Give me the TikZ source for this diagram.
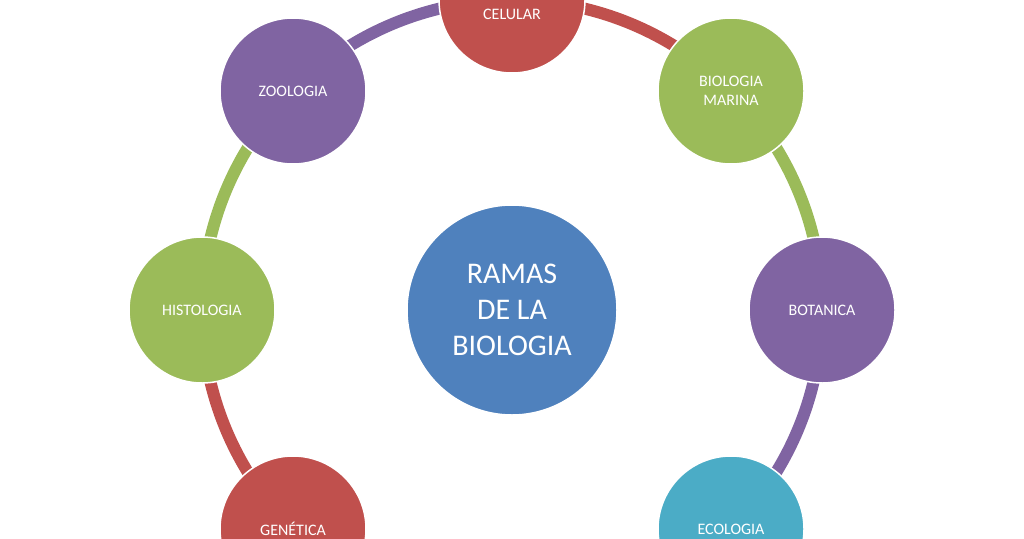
\documentclass[tikz,border=0pt]{standalone}
\usepackage{fontspec}
\setmainfont{Carlito}
\usetikzlibrary{calc}
\definecolor{cred}{HTML}{C0504D}
\definecolor{cgreen}{HTML}{9BBB59}
\definecolor{cpurple}{HTML}{8064A2}
\definecolor{cblue}{HTML}{4F81BD}
\definecolor{cteal}{HTML}{4BACC6}
\begin{document}
\begin{tikzpicture}[x=1pt,y=-1pt,
  branch/.style={circle,draw=white,line width=1.5pt,minimum size=146pt,inner sep=0pt,text=white,align=center,font=\fontsize{16}{19}\selectfont},
  lbl/.style={text=white,align=center,font=\fontsize{16}{19}\selectfont},
  ring/.style={line width=12pt}]
\useasboundingbox (0,0) rectangle (1024,538);
\coordinate (o) at (512,310);
\foreach \a/\b/\c in {90/45/cred,45/0/cgreen,0/-45/cpurple,135/90/cpurple,180/135/cgreen,225/180/cred}{
  \draw[ring,\c] ($(o)+(\a:310 and -310)$) arc[start angle=-\a,end angle=-\b,radius=310];
}
\node[branch,fill=cred] (cel) at (512,0) {};
\node[lbl] (celt) at (512,14) {CELULAR};
\node[branch,fill=cgreen] (mar) at (731,91) {BIOLOGIA\\MARINA};
\node[branch,fill=cpurple] (bot) at (822,310) {BOTANICA};
\node[branch,fill=cteal] (eco) at (731,529) {};
\node[lbl] (ecot) at (731,529) {ECOLOGIA};
\node[branch,fill=cred] (gen) at (293,529) {};
\node[lbl] (gent) at (293,529) {GENÉTICA};
\node[branch,fill=cgreen] (his) at (202,310) {HISTOLOGIA};
\node[branch,fill=cpurple] (zoo) at (293,91) {ZOOLOGIA};
\node[circle,draw=white,line width=1.5pt,fill=cblue,minimum size=210pt,inner sep=0pt,text=white,align=center,font=\fontsize{30}{36}\selectfont] (c) at (o) {RAMAS\\DE LA\\BIOLOGIA};
\end{tikzpicture}
\end{document}
